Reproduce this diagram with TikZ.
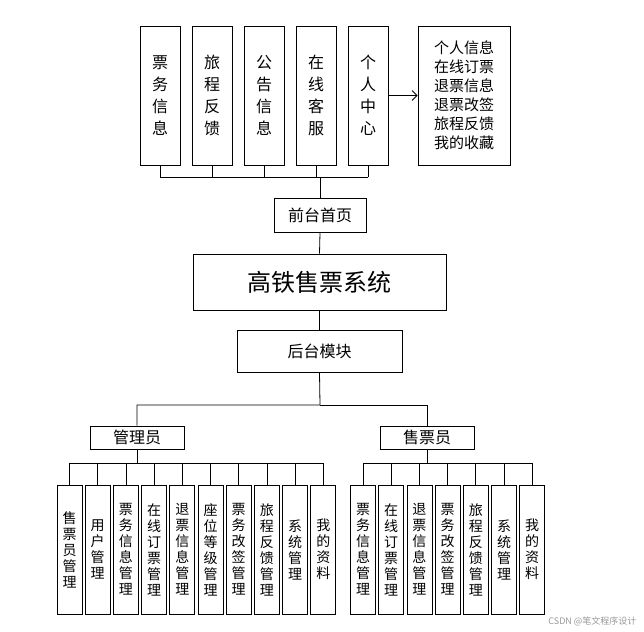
\documentclass[tikz,border=0pt]{standalone}
\usepackage{fontspec}
\setmainfont{Noto Sans CJK SC}
\usetikzlibrary{positioning,arrows.meta}
\tikzset{
  mod/.style={draw, line width=0.8pt, inner sep=0pt, align=center, font=\fontsize{14}{16}\selectfont},
  link/.style={line width=0.8pt}
}
\begin{document}
\begin{tikzpicture}[x=1pt,y=-1pt]
  \useasboundingbox (0,0) rectangle (644,631);
  % FRONT END
  \foreach \t [count=\i] in {票\\务\\信\\息, 旅\\程\\反\\馈, 公\\告\\信\\息, 在\\线\\客\\服, 个\\人\\中\\心} {
    \node[mod, minimum width=40pt, minimum height=139pt, font=\fontsize{16}{22}\selectfont] (top\i) at (108+52*\i, 95.5) {\t};
    \draw[link] (top\i.south) -- ++(0,12);
  }
  \node[mod, minimum width=92pt, minimum height=139pt, font=\fontsize{15}{19}\selectfont, align=left] (center) at (464, 95.5) {个人信息\\在线订票\\退票信息\\退票改签\\旅程反馈\\我的收藏};
  \draw[link, -{Straight Barb[length=5pt]}] (top5.east) -- (center.west);
  \coordinate (bus) at (320,177);
  \draw[link] (160,177) -- (368,177);
  \node[mod, minimum width=92pt, minimum height=34pt, font=\fontsize{16}{18}\selectfont] (front) at (320, 215) {前台首页};
  \draw[link] (bus) -- (front.north);
  % CORE
  \node[mod, minimum width=253pt, minimum height=56pt, font=\fontsize{24}{26}\selectfont] (sys) at (319.5, 282) {高铁售票系统};
  \draw[link] (front.south) -- (sys.north);
  \node[mod, minimum width=165pt, minimum height=42pt, font=\fontsize{16}{18}\selectfont] (back) at (319.5, 351) {后台模块};
  \draw[link] (sys.south) -- (back.north);
  \node[mod, minimum width=94pt, minimum height=23pt, font=\fontsize{16}{18}\selectfont] (admin) at (137, 437.5) {管理员};
  \node[mod, minimum width=94pt, minimum height=23pt, font=\fontsize{16}{18}\selectfont] (seller) at (427, 437.5) {售票员};
  \draw[link] (back.south) -- (320,405) -| (admin.north);
  \draw[link] (320,405) -| (seller.north);
  % ADMIN MODULES
  \draw[link] (admin.south) -- (137,463);
  \draw[link] (69.5,463) -- (323.3,463);
  \foreach \t [count=\i] in {售\\票\\员\\管\\理, 用\\户\\管\\理, 票\\务\\信\\息\\管\\理, 在\\线\\订\\票\\管\\理, 退\\票\\信\\息\\管\\理, 座\\位\\等\\级\\管\\理, 票\\务\\改\\签\\管\\理, 旅\\程\\反\\馈\\管\\理, 系\\统\\管\\理, 我\\的\\资\\料} {
    \node[mod, minimum width=25pt, minimum height=129pt] (a\i) at (41.3+28.2*\i, 549.5) {\t};
    \draw[link] (a\i.north) -- ++(0,-22);
  }
  % SELLER MODULES
  \draw[link] (seller.south) -- (427,463);
  \draw[link] (363,463) -- (532.2,463);
  \foreach \t [count=\i] in {票\\务\\信\\息\\管\\理, 在\\线\\订\\票\\管\\理, 退\\票\\信\\息\\管\\理, 票\\务\\改\\签\\管\\理, 旅\\程\\反\\馈\\管\\理, 系\\统\\管\\理, 我\\的\\资\\料} {
    \node[mod, minimum width=25pt, minimum height=129pt] (s\i) at (334.8+28.2*\i, 549.5) {\t};
    \draw[link] (s\i.north) -- ++(0,-22);
  }
  \node[text=black!40, font=\fontsize{9}{10}\selectfont, anchor=east] (mark) at (640, 621) {CSDN @笔文程序设计};
\end{tikzpicture}
\end{document}
